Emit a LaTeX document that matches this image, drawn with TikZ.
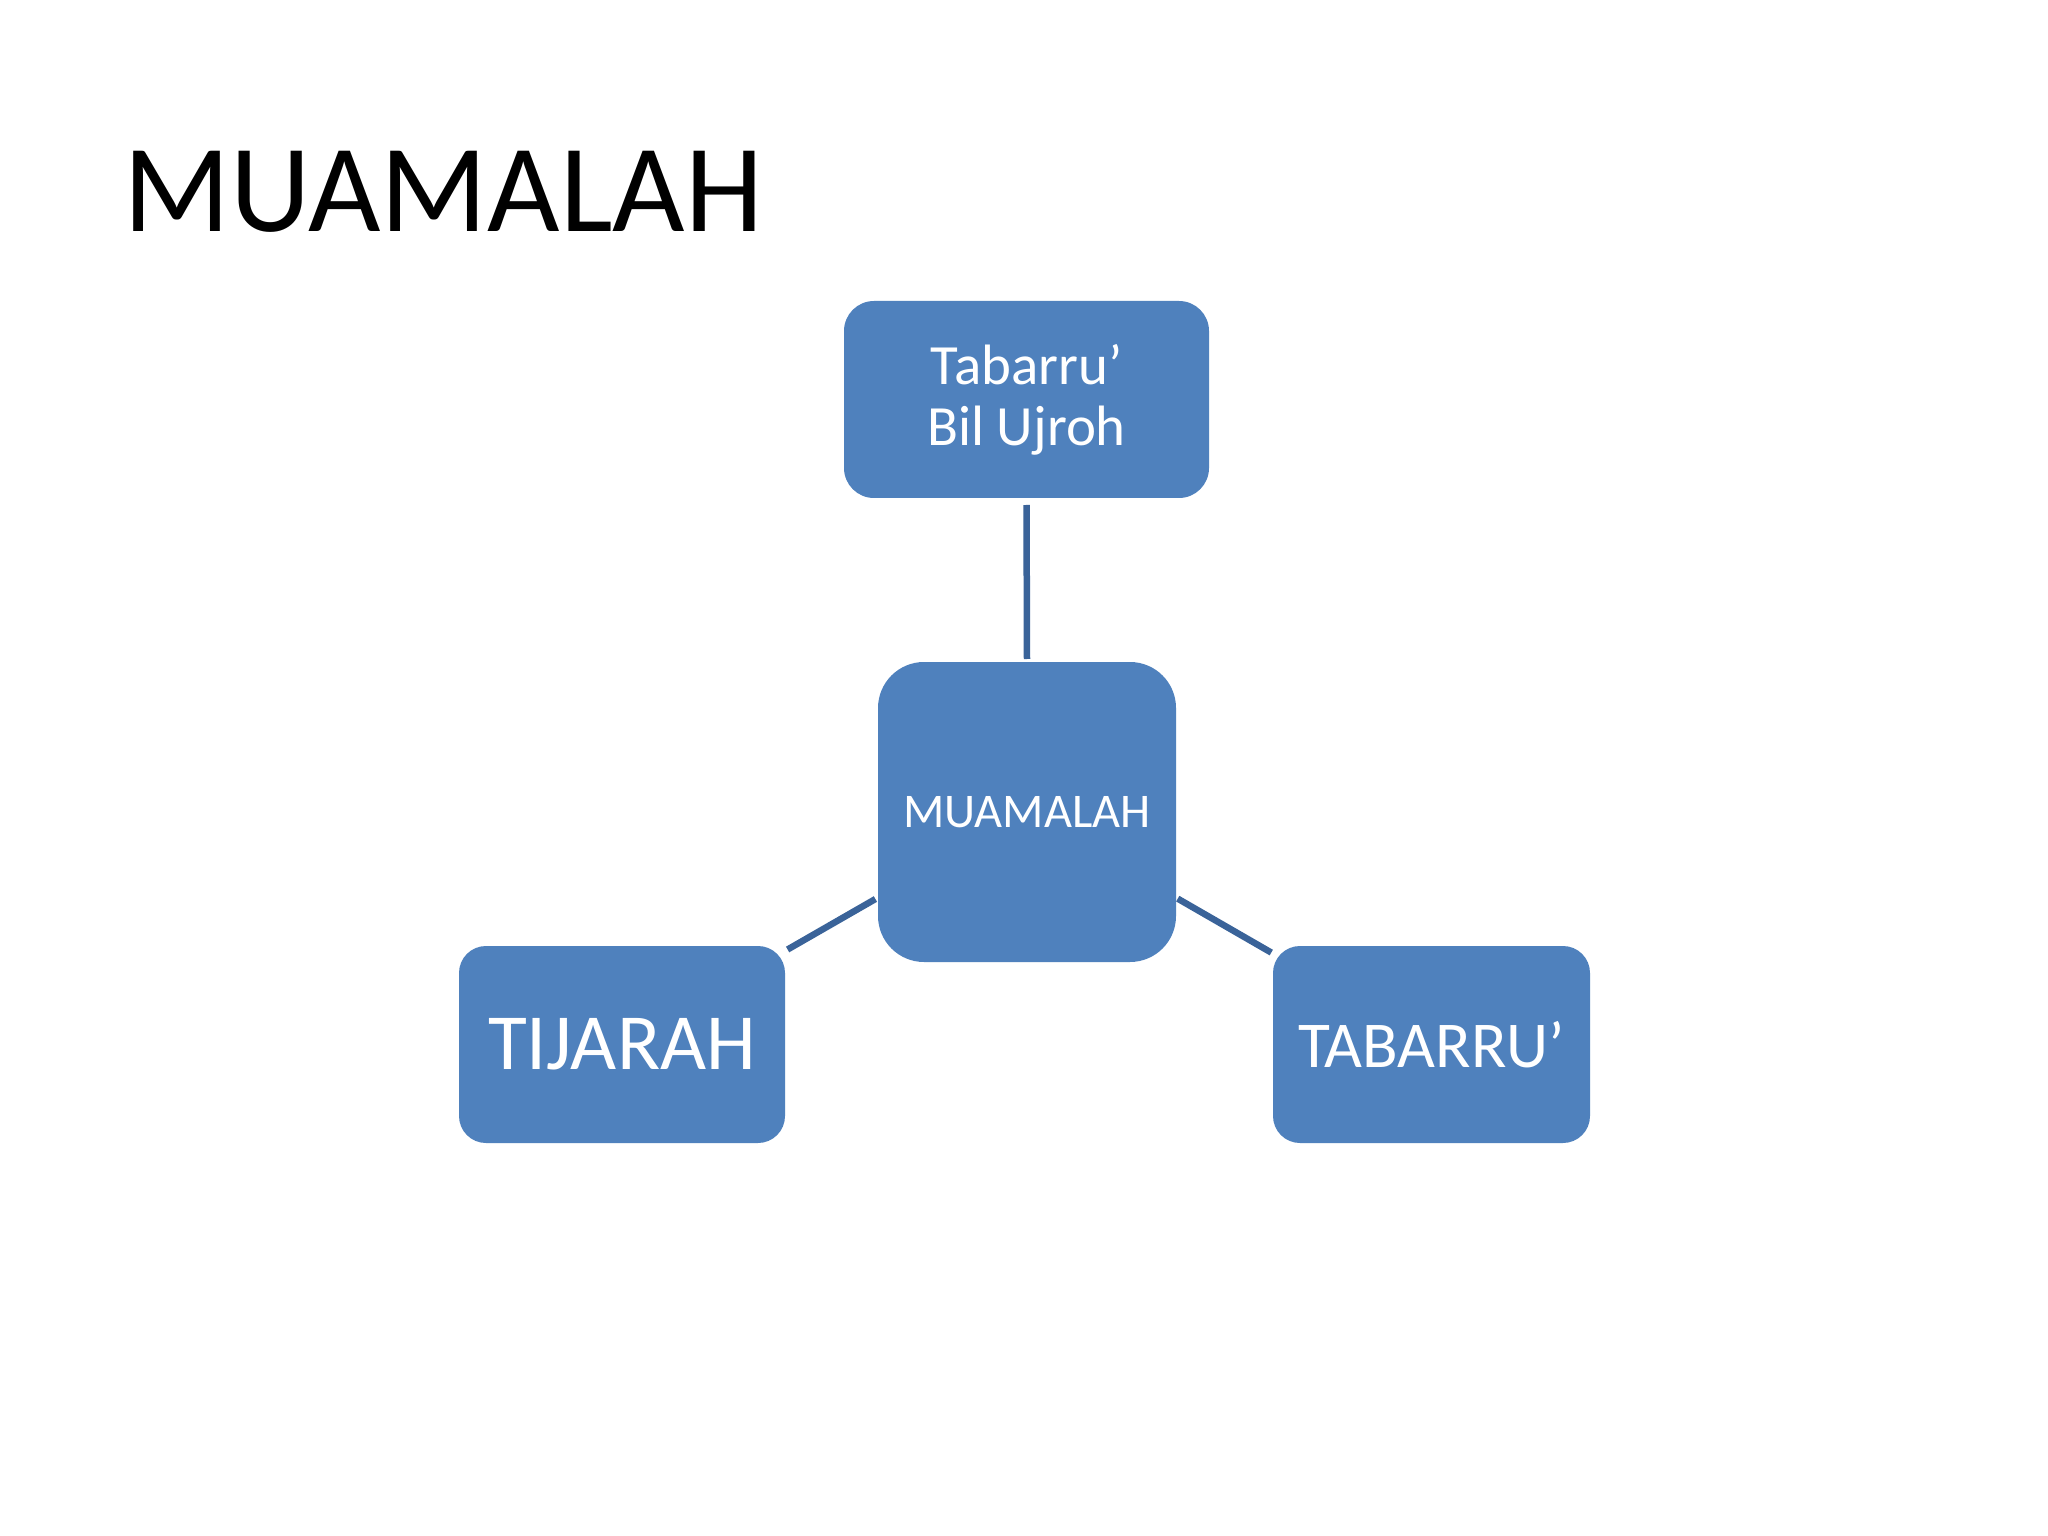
\documentclass[tikz,border=0pt]{standalone}
\usepackage{fontspec}
\setmainfont{Carlito}
\def\pxu{0.35156pt}
\definecolor{boxblue}{HTML}{4F81BD}
\definecolor{linkblue}{HTML}{3A6399}
\tikzset{
  box/.style={rectangle, fill=boxblue, draw=none, text=white, align=center, inner sep=0pt, outer sep=0pt},
  link/.style={draw=linkblue, line width=6.5*\pxu},
}
\begin{document}
\begin{tikzpicture}[x=\pxu, y=-\pxu]
\useasboundingbox[fill=white] (0,0) rectangle (2048,1536);
\node[anchor=base west, inner sep=0pt, font=\fontsize{44}{52}\selectfont] (title) at (123,232) {MUAMALAH};
\node[box, minimum width=365*\pxu, minimum height=197*\pxu, rounded corners=30*\pxu,
      font=\fontsize{20}{21.5}\selectfont] (top) at (1026.5,399.5) {Tabarru’\\Bil Ujroh};
\node[box, minimum width=298*\pxu, minimum height=300*\pxu, rounded corners=46*\pxu,
      font=\fontsize{17}{21}\selectfont] (mid) at (1027,812) {MUAMALAH};
\node[box, minimum width=326*\pxu, minimum height=197*\pxu, rounded corners=27*\pxu,
      font=\fontsize{28}{32}\selectfont] (left) at (622,1044.5) {TIJARAH};
\node[box, minimum width=317*\pxu, minimum height=197*\pxu, rounded corners=27*\pxu,
      font=\fontsize{23}{27}\selectfont] (right) at (1431.5,1044.5) {TABARRU’};
\draw[link, shorten <=7*\pxu, shorten >=3*\pxu] (top.south) -- (mid.north);
\draw[link, shorten <=3*\pxu, shorten >=3*\pxu] (mid) -- (left);
\draw[link, shorten <=2*\pxu, shorten >=2*\pxu] (mid) -- (right);
\end{tikzpicture}
\end{document}
